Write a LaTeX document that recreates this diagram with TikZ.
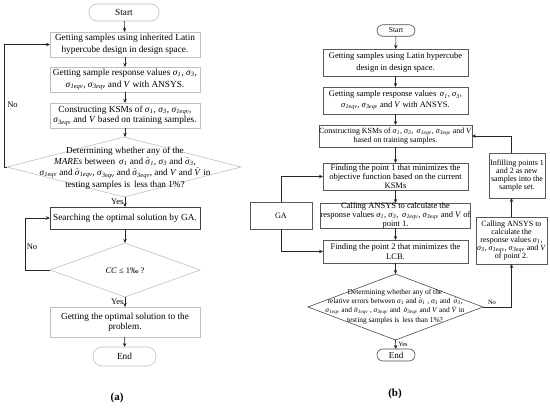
\documentclass[tikz,border=0pt]{standalone}
\usepackage{fontspec}
\setmainfont{Liberation Serif}
\usetikzlibrary{arrows.meta,shapes.geometric}
\newcommand{\mysig}[1]{\textit{σ}\textsubscript{\textit{#1}}}
\newcommand{\myhsig}[1]{$\hat{\mbox{\textit{σ}}}$\textsubscript{\textit{#1}}}
\newcommand{\myV}{\textit{V}}
\newcommand{\myhV}{$\hat{\mbox{\textit{V}}}$}
\begin{document}
\begin{tikzpicture}[x=1pt,y=-1pt,
  every node/.style={inner sep=0pt,outer sep=0pt},
  lbox/.style={draw=black!25,line width=0.6pt,align=center},
  rbox/.style={draw=black!65,line width=0.6pt,align=center},
  sbox/.style={draw=black!75,line width=0.7pt,align=center},
  lterm/.style={draw=black!25,line width=0.6pt,rounded corners=8pt,font=\fontsize{9.3}{11}\selectfont},
  rterm/.style={draw=black!70,line width=0.6pt,rounded corners=6pt},
  ldiam/.style={diamond,draw=black!25,line width=0.6pt},
  rdiam/.style={diamond,draw=black!70,line width=0.6pt},
  arr/.style={-{Stealth[length=4pt,width=3.5pt]},line width=0.6pt,draw=black!85},
  lab/.style={font=\fontsize{8.5}{10}\selectfont},
  rlab/.style={font=\fontsize{6.5}{8}\selectfont},
  fa/.style={font=\fontsize{9.3}{#1}\selectfont},
  fb/.style={font=\fontsize{8.5}{#1}\selectfont},
]
\useasboundingbox (0,0) rectangle (550,409);

% ---------------- (a) ----------------
\node[lterm,minimum width=70pt,minimum height=17pt] (as) at (124,12.5) {Start};
\node[lbox,fa=11.7,minimum width=150pt,minimum height=25pt] (a1) at (125,44.5)
  {Getting samples using inherited Latin\\hypercube design in design space.};
\node[lbox,fa=11.7,minimum width=150pt,minimum height=25pt] (a2) at (125,79.5)
  {Getting sample response values \mysig{1}, \mysig{3},\\\mysig{1eqv}, \mysig{3eqv} and \myV{} with ANSYS.};
\node[lbox,fa=10.7,minimum width=150pt,minimum height=25pt] (a3) at (125,115.5)
  {Constructing KSMs of \mysig{1}, \mysig{3}, \mysig{1eqv},\\\mysig{3eqv} and \myV{} based on training samples.};
\node[ldiam,minimum width=234pt,minimum height=60pt] (d1) at (124,167) {};
\node[align=center,font=\fontsize{9.2}{11.2}\selectfont] (d1t) at (125,168)
  {Determining whether any of the\\
   \textit{MAREs} between\, \mysig{1} and \myhsig{1}, \mysig{3} and \myhsig{3},\\
   \mysig{1eqv} and \myhsig{1eqv}, \mysig{3eqv} and \myhsig{3eqv}, and \myV{} and \myhV{} in\\
   testing samples is\, less than 1\%?};
\node[sbox,fa=11,minimum width=150pt,minimum height=22pt] (a4) at (125,218)
  {Searching the optimal solution by GA.};
\node[ldiam,minimum width=150pt,minimum height=54pt] (d2) at (125,270) {};
\node[font=\fontsize{8.5}{10}\selectfont] (d2t) at (125,271) {\textit{CC} ≤ 1‰ ?};
\node[lbox,fa=10,minimum width=150pt,minimum height=30pt] (a5) at (125,322)
  {Getting the optimal solution to the\\problem.};
\node[lterm,minimum width=63pt,minimum height=19pt,rounded corners=9pt] (ae) at (124.5,356.5) {End};

\draw[arr] (as) -- (a1);
\draw[arr] (a1) -- (a2);
\draw[arr] (a2) -- (a3);
\draw[arr] (a3) -- (a3 |- d1.north);
\draw[arr] (a3 |- d1.south) -- (a4);
\draw[arr] (a4) -- (d2.north);
\draw[arr] (d2.south) -- (a5);
\draw[arr] (a5) -- (ae);

\coordinate (l1) at (4,167);
\draw[arr] (d1.west) -- (l1) |- (a1.west);
\coordinate (l2) at (25,270);
\draw[arr] (d2.west) -- (l2) |- (a4.west);

\node[lab] (ano1) at (12.5,105) {No};
\node[lab] (ano2) at (32,247) {No};
\node[lab,anchor=east] (ay1) at (123.5,202) {Yes};
\node[lab,anchor=east] (ay2) at (123.5,302) {Yes};

\node[font=\bfseries\fontsize{11}{13}\selectfont] (alab) at (117,398) {(a)};

% ---------------- (b) ----------------
\node[rterm,minimum width=38pt,minimum height=11.5pt,font=\fontsize{7.6}{9}\selectfont] (bs) at (396,30.5) {Start};
\node[rbox,fb=12,minimum width=145pt,minimum height=27pt] (b1) at (395.5,62.5)
  {Getting samples using Latin hypercube\\design in design space.};
\node[rbox,fb=10.5,minimum width=145pt,minimum height=27pt] (b2) at (395.5,100.5)
  {Getting sample response values\, \mysig{1}, \mysig{3},\\\mysig{1eqv}, \mysig{3eqv} and \myV{} with ANSYS.};
\node[rbox,font=\fontsize{7.9}{9}\selectfont,minimum width=145pt,minimum height=22pt] (b3) at (395.5,136)
  {Constructing KSMs of \mysig{1}, \mysig{3},\, \mysig{1eqv}, \mysig{3eqv} and \myV\\based on training samples.};
\node[rbox,fb=8.8,minimum width=145pt,minimum height=27pt] (b4) at (395.5,176.5)
  {Finding the point 1 that minimizes the\\objective function based on the current\\KSMs};
\node[rbox,fb=8.6,minimum width=145pt,minimum height=25pt] (b5) at (395.5,215.5)
  {Calling ANSYS to calculate the\\response values \mysig{1}, \mysig{3},\, \mysig{1eqv}, \mysig{3eqv} and \myV{} of\\point 1.};
\node[rbox,fb=10,minimum width=145pt,minimum height=23pt] (b6) at (395.5,251.5)
  {Finding the point 2 that minimizes the\\LCB.};
\node[rbox,font=\fontsize{8.2}{10}\selectfont,minimum width=62pt,minimum height=27pt] (ga) at (281,215.5) {GA};
\node[rbox,font=\fontsize{8}{8.2}\selectfont,minimum width=56pt,minimum height=45pt] (b7) at (517,175.5)
  {Infilling points 1\\and 2 as new\\samples into the\\sample set.};
\node[rbox,font=\fontsize{8}{8.2}\selectfont,minimum width=71pt,minimum height=47pt] (b8) at (511.5,240.5)
  {Calling ANSYS to\\calculate the\\response values \mysig{1},\\\mysig{3}, \mysig{1eqv}, \mysig{3eqv} and \myV\\of point 2.};
\node[rdiam,minimum width=175pt,minimum height=66pt] (bd) at (395.5,307) {};
\node[align=center,font=\fontsize{7.4}{9.2}\selectfont] (bdt) at (395,306.5)
  {Determining whether any of the\\
   relative errors between \mysig{1} and \myhsig{1} , \mysig{3} and\, \myhsig{3},\\
   \mysig{1eqv} and \myhsig{1eqv} , \mysig{3eqv} and\, \myhsig{3eqv} and \myV{} and \myhV{} in\\
   testing samples is\, less than 1\%?};
\node[rterm,minimum width=38pt,minimum height=12pt,font=\fontsize{9}{10}\selectfont] (be) at (396,355) {End};

\draw[arr] (bs) -- (b1);
\draw[arr] (b1) -- (b2);
\draw[arr] (b2) -- (b3);
\draw[arr] (b3) -- (b4);
\draw[arr] (b4) -- (b5);
\draw[arr] (b5) -- (b6);
\draw[arr] (b6.south) -- (bd.north);
\draw[arr] (bd.south) -- (be);
\draw[arr] (ga.north) |- (b4.west);
\draw[arr] (ga.south) |- (b6.west);
\draw[arr] (bd.east) -| (b8.south);
\draw[arr] (b8.north) -- (b8.north |- b7.south);
\draw[arr] (b8.north |- b7.north) |- (b3.east);

\node[rlab] (bno) at (492,302) {No};
\node[rlab] (byes) at (403,344) {Yes};

\node[font=\bfseries\fontsize{11}{13}\selectfont] (blab) at (395,394) {(b)};
\end{tikzpicture}
\end{document}
